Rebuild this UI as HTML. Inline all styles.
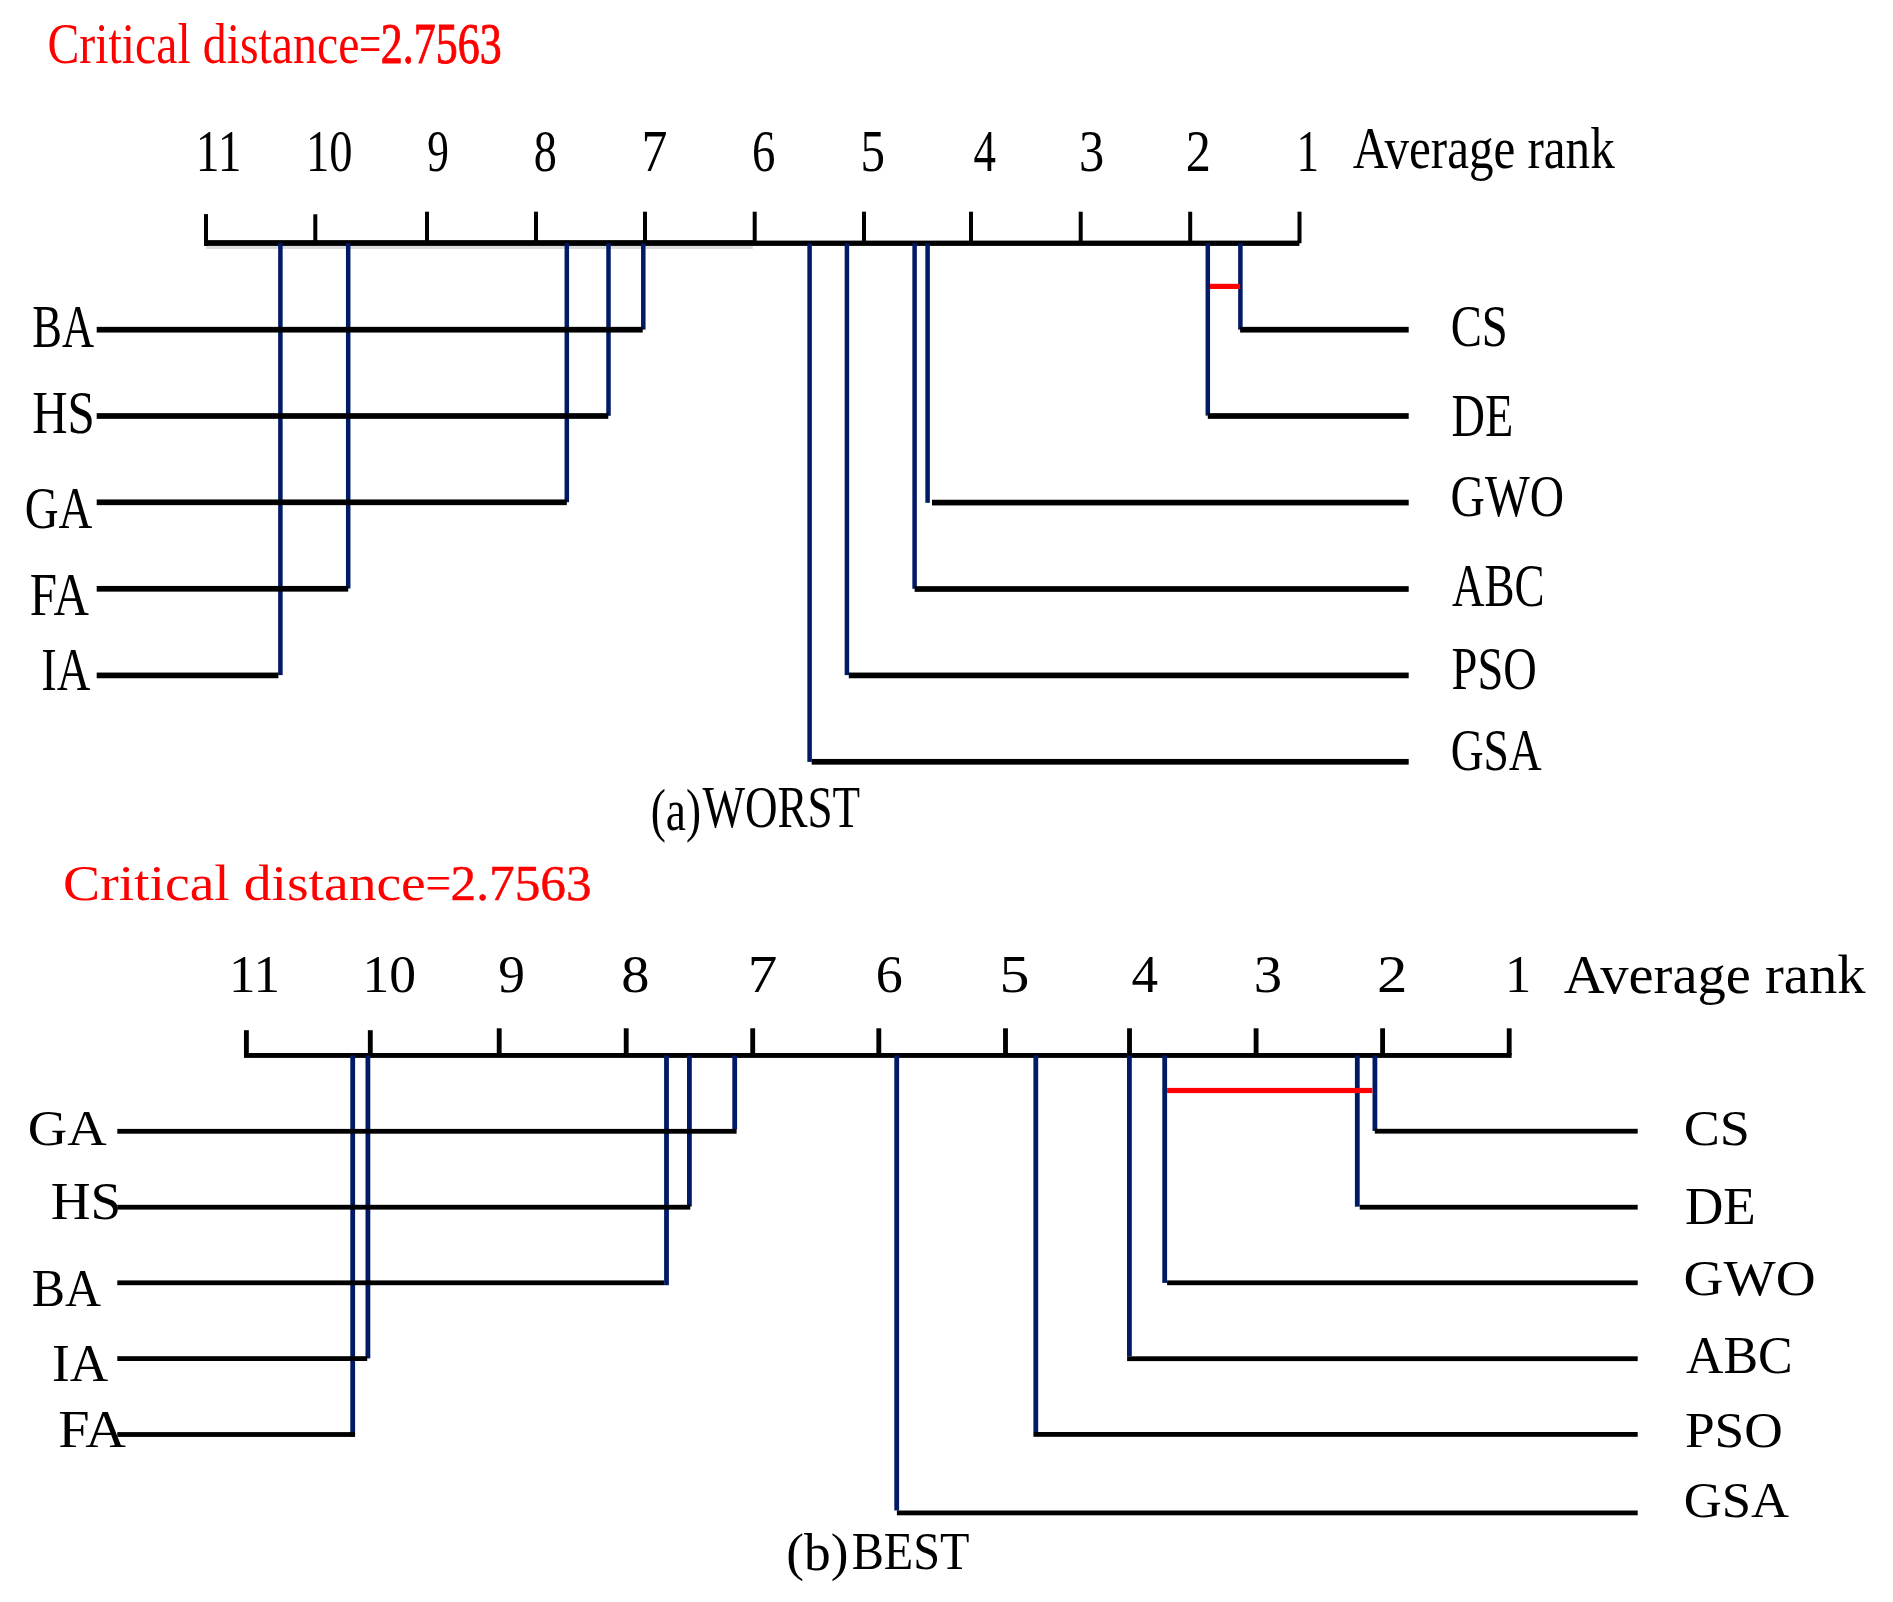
<!DOCTYPE html>
<html><head><meta charset="utf-8"><title>Critical distance diagrams</title>
<style>
html,body{margin:0;padding:0;background:#fff;}
svg{display:block;}
text{font-family:"Liberation Serif","DejaVu Serif",serif;font-size:100px;}
</style></head><body>
<svg width="1893" height="1602" viewBox="0 0 1893 1602">
<rect x="0" y="0" width="1893" height="1602" fill="#fff"/>
<g id="fig-a">
<text transform="matrix(0.5716 0 0 0.5716 0 63.03)" fill="#ff0000"><tspan x="83.07" textLength="545.63" lengthAdjust="spacingAndGlyphs">Critical distance</tspan><tspan x="628.46" textLength="38.40" lengthAdjust="spacingAndGlyphs">=</tspan><tspan x="666.19" textLength="211.38" lengthAdjust="spacingAndGlyphs" stroke="#ff0000" stroke-width="1.6">2.7563</tspan></text>
<text transform="matrix(0.4741 0 0 0.5908 195.73 170.70)" fill="#000">11</text>
<text transform="matrix(0.4655 0 0 0.5908 305.91 170.70)" fill="#000">10</text>
<text transform="matrix(0.4326 0 0 0.5908 427.20 170.70)" fill="#000">9</text>
<text transform="matrix(0.4619 0 0 0.5908 533.65 170.70)" fill="#000">8</text>
<text transform="matrix(0.5185 0 0 0.5908 641.43 170.70)" fill="#000">7</text>
<text transform="matrix(0.4682 0 0 0.5908 752.09 170.70)" fill="#000">6</text>
<text transform="matrix(0.4900 0 0 0.5908 860.46 170.70)" fill="#000">5</text>
<text transform="matrix(0.4495 0 0 0.5908 973.40 170.70)" fill="#000">4</text>
<text transform="matrix(0.5049 0 0 0.5908 1078.98 170.70)" fill="#000">3</text>
<text transform="matrix(0.5025 0 0 0.5908 1185.74 170.70)" fill="#000">2</text>
<text transform="matrix(0.4514 0 0 0.5908 1296.44 170.70)" fill="#000">1</text>
<text transform="matrix(0.4908 0 0 0.6015 1352.71 168.00)" fill="#000">Average rank</text>
<rect x="206.00" y="245.50" width="546.70" height="3.50" fill="#dcdcdc"/>
<rect x="204.10" y="240.10" width="548.70" height="1.50" fill="#1c1c1c"/>
<rect x="204.10" y="240.60" width="1095.30" height="5.30" fill="#000"/>
<rect x="204.00" y="214.30" width="4.00" height="28.95" fill="#000"/>
<rect x="313.30" y="214.30" width="4.00" height="28.95" fill="#000"/>
<rect x="425.00" y="211.70" width="4.00" height="31.55" fill="#000"/>
<rect x="534.00" y="211.70" width="4.00" height="31.55" fill="#000"/>
<rect x="643.00" y="211.70" width="4.00" height="31.55" fill="#000"/>
<rect x="752.70" y="211.70" width="4.00" height="31.55" fill="#000"/>
<rect x="862.00" y="211.70" width="4.00" height="31.55" fill="#000"/>
<rect x="969.00" y="211.70" width="4.00" height="31.55" fill="#000"/>
<rect x="1078.70" y="211.70" width="4.00" height="31.55" fill="#000"/>
<rect x="1188.20" y="211.70" width="4.00" height="31.55" fill="#000"/>
<rect x="1297.50" y="211.70" width="4.00" height="31.55" fill="#000"/>
<rect x="204.05" y="214.30" width="3.90" height="31.60" fill="#000"/>
<rect x="641.05" y="243.25" width="4.50" height="86.35" fill="#001a66"/>
<rect x="606.25" y="243.25" width="4.50" height="172.55" fill="#001a66"/>
<rect x="564.55" y="243.25" width="4.50" height="258.95" fill="#001a66"/>
<rect x="345.95" y="243.25" width="4.50" height="345.25" fill="#001a66"/>
<rect x="278.15" y="243.25" width="4.50" height="431.85" fill="#001a66"/>
<rect x="1238.15" y="243.25" width="4.50" height="86.35" fill="#001a66"/>
<rect x="1205.55" y="243.25" width="4.50" height="172.35" fill="#001a66"/>
<rect x="925.35" y="243.25" width="4.50" height="259.55" fill="#001a66"/>
<rect x="912.35" y="243.25" width="4.50" height="345.55" fill="#001a66"/>
<rect x="844.65" y="243.25" width="4.50" height="431.85" fill="#001a66"/>
<rect x="807.35" y="243.25" width="4.50" height="518.65" fill="#001a66"/>
<rect x="96.70" y="326.85" width="546.00" height="5.70" fill="#000"/>
<rect x="96.70" y="413.15" width="511.60" height="5.70" fill="#000"/>
<rect x="96.70" y="499.45" width="470.10" height="5.70" fill="#000"/>
<rect x="96.70" y="585.95" width="251.50" height="5.70" fill="#000"/>
<rect x="96.70" y="672.55" width="181.70" height="5.70" fill="#000"/>
<rect x="1240.10" y="326.85" width="168.60" height="5.70" fill="#000"/>
<rect x="1207.80" y="413.15" width="200.90" height="5.70" fill="#000"/>
<rect x="932.00" y="499.75" width="476.70" height="5.70" fill="#000"/>
<rect x="914.60" y="586.15" width="494.10" height="5.70" fill="#000"/>
<rect x="848.80" y="672.55" width="559.90" height="5.70" fill="#000"/>
<rect x="811.70" y="758.95" width="597.00" height="5.70" fill="#000"/>
<rect x="1209.90" y="283.80" width="30.20" height="5.20" fill="#ff0000"/>
<text transform="matrix(0.4452 0 0 0.6031 32.26 346.70)" fill="#000">BA</text>
<text transform="matrix(0.4895 0 0 0.6060 32.13 433.09)" fill="#000">HS</text>
<text transform="matrix(0.4674 0 0 0.6015 24.83 528.00)" fill="#000">GA</text>
<text transform="matrix(0.4910 0 0 0.6046 29.83 614.70)" fill="#000">FA</text>
<text transform="matrix(0.4653 0 0 0.6107 41.27 689.70)" fill="#000">IA</text>
<text transform="matrix(0.4670 0 0 0.5985 1450.63 346.20)" fill="#000">CS</text>
<text transform="matrix(0.4629 0 0 0.6107 1451.61 436.30)" fill="#000">DE</text>
<text transform="matrix(0.4751 0 0 0.5867 1450.60 515.72)" fill="#000">GWO</text>
<text transform="matrix(0.4503 0 0 0.6045 1452.05 605.60)" fill="#000">ABC</text>
<text transform="matrix(0.4640 0 0 0.6045 1451.61 689.30)" fill="#000">PSO</text>
<text transform="matrix(0.4552 0 0 0.5985 1450.68 770.00)" fill="#000">GSA</text>
<text transform="matrix(0.4539 0 0 0.5989 650.66 829.82)" fill="#000">(a)</text>
<text transform="matrix(0.4505 0 0 0.5880 702.50 826.72)" fill="#000">WORST</text>
</g>
<g id="fig-b">
<text transform="matrix(0.5015 0 0 0.5015 0 899.80)" fill="#ff0000"><tspan x="125.78" textLength="723.22" lengthAdjust="spacingAndGlyphs">Critical distance</tspan><tspan x="848.31" textLength="51.27" lengthAdjust="spacingAndGlyphs">=</tspan><tspan x="898.50" textLength="281.07" lengthAdjust="spacingAndGlyphs" stroke="#ff0000" stroke-width="0.8">2.7563</tspan></text>
<text transform="matrix(0.5309 0 0 0.5313 229.02 992.10)" fill="#000">11</text>
<text transform="matrix(0.5356 0 0 0.5313 362.38 992.10)" fill="#000">10</text>
<text transform="matrix(0.5349 0 0 0.5313 498.20 992.10)" fill="#000">9</text>
<text transform="matrix(0.5643 0 0 0.5313 621.24 992.10)" fill="#000">8</text>
<text transform="matrix(0.5926 0 0 0.5313 747.65 992.10)" fill="#000">7</text>
<text transform="matrix(0.5412 0 0 0.5313 875.76 992.10)" fill="#000">6</text>
<text transform="matrix(0.6000 0 0 0.5313 999.60 992.10)" fill="#000">5</text>
<text transform="matrix(0.5312 0 0 0.5313 1131.44 992.10)" fill="#000">4</text>
<text transform="matrix(0.5683 0 0 0.5313 1253.66 992.10)" fill="#000">3</text>
<text transform="matrix(0.6100 0 0 0.5313 1377.05 992.10)" fill="#000">2</text>
<text transform="matrix(0.5257 0 0 0.5313 1505.07 992.10)" fill="#000">1</text>
<text transform="matrix(0.5653 0 0 0.5405 1563.63 993.00)" fill="#000">Average rank</text>
<rect x="244.00" y="1053.00" width="1267.60" height="4.90" fill="#000"/>
<rect x="243.97" y="1030.20" width="4.85" height="25.25" fill="#000"/>
<rect x="367.88" y="1030.20" width="4.85" height="25.25" fill="#000"/>
<rect x="496.77" y="1028.30" width="4.85" height="27.15" fill="#000"/>
<rect x="623.78" y="1028.30" width="4.85" height="27.15" fill="#000"/>
<rect x="750.28" y="1028.30" width="4.85" height="27.15" fill="#000"/>
<rect x="876.38" y="1028.30" width="4.85" height="27.15" fill="#000"/>
<rect x="1003.08" y="1028.30" width="4.85" height="27.15" fill="#000"/>
<rect x="1127.08" y="1028.30" width="4.85" height="27.15" fill="#000"/>
<rect x="1253.67" y="1028.30" width="4.85" height="27.15" fill="#000"/>
<rect x="1380.17" y="1028.30" width="4.85" height="27.15" fill="#000"/>
<rect x="1506.78" y="1028.30" width="4.85" height="27.15" fill="#000"/>
<rect x="732.30" y="1055.45" width="4.80" height="73.85" fill="#001a66"/>
<rect x="687.00" y="1055.45" width="4.80" height="151.05" fill="#001a66"/>
<rect x="664.10" y="1055.45" width="4.80" height="229.75" fill="#001a66"/>
<rect x="365.50" y="1055.45" width="4.80" height="302.95" fill="#001a66"/>
<rect x="350.30" y="1055.45" width="4.80" height="380.95" fill="#001a66"/>
<rect x="1372.50" y="1055.45" width="4.80" height="75.45" fill="#001a66"/>
<rect x="1354.90" y="1055.45" width="4.80" height="151.25" fill="#001a66"/>
<rect x="1162.30" y="1055.45" width="4.80" height="227.45" fill="#001a66"/>
<rect x="1127.00" y="1055.45" width="4.80" height="300.85" fill="#001a66"/>
<rect x="1033.40" y="1055.45" width="4.80" height="376.55" fill="#001a66"/>
<rect x="894.30" y="1055.45" width="4.80" height="455.05" fill="#001a66"/>
<rect x="117.30" y="1128.90" width="619.30" height="4.80" fill="#000"/>
<rect x="117.30" y="1204.80" width="573.00" height="4.80" fill="#000"/>
<rect x="117.30" y="1280.40" width="546.80" height="4.80" fill="#000"/>
<rect x="117.30" y="1356.20" width="249.90" height="4.80" fill="#000"/>
<rect x="117.30" y="1432.10" width="237.70" height="4.80" fill="#000"/>
<rect x="1374.80" y="1128.80" width="262.90" height="4.80" fill="#000"/>
<rect x="1359.70" y="1204.80" width="278.00" height="4.80" fill="#000"/>
<rect x="1167.10" y="1280.40" width="470.60" height="4.80" fill="#000"/>
<rect x="1127.10" y="1356.30" width="510.60" height="4.80" fill="#000"/>
<rect x="1033.40" y="1432.00" width="604.30" height="4.80" fill="#000"/>
<rect x="896.90" y="1510.50" width="740.80" height="4.80" fill="#000"/>
<rect x="1167.10" y="1087.90" width="205.20" height="5.20" fill="#ff0000"/>
<text transform="matrix(0.5462 0 0 0.5164 27.82 1145.38)" fill="#000">GA</text>
<text transform="matrix(0.5519 0 0 0.5209 50.64 1219.38)" fill="#000">HS</text>
<text transform="matrix(0.4985 0 0 0.5176 31.80 1305.50)" fill="#000">BA</text>
<text transform="matrix(0.5327 0 0 0.5191 52.04 1381.10)" fill="#000">IA</text>
<text transform="matrix(0.5631 0 0 0.5221 58.21 1447.10)" fill="#000">FA</text>
<text transform="matrix(0.5420 0 0 0.5134 1683.63 1145.49)" fill="#000">CS</text>
<text transform="matrix(0.5315 0 0 0.5252 1684.91 1224.40)" fill="#000">DE</text>
<text transform="matrix(0.5527 0 0 0.5096 1683.59 1294.64)" fill="#000">GWO</text>
<text transform="matrix(0.5191 0 0 0.5179 1685.98 1373.18)" fill="#000">ABC</text>
<text transform="matrix(0.5343 0 0 0.5030 1684.90 1446.50)" fill="#000">PSO</text>
<text transform="matrix(0.5269 0 0 0.5134 1683.69 1517.19)" fill="#000">GSA</text>
<text transform="matrix(0.5330 0 0 0.5311 786.30 1569.75)" fill="#000">(b)</text>
<text transform="matrix(0.4821 0 0 0.5313 851.65 1568.50)" fill="#000">BEST</text>
</g>
</svg>
</body></html>
